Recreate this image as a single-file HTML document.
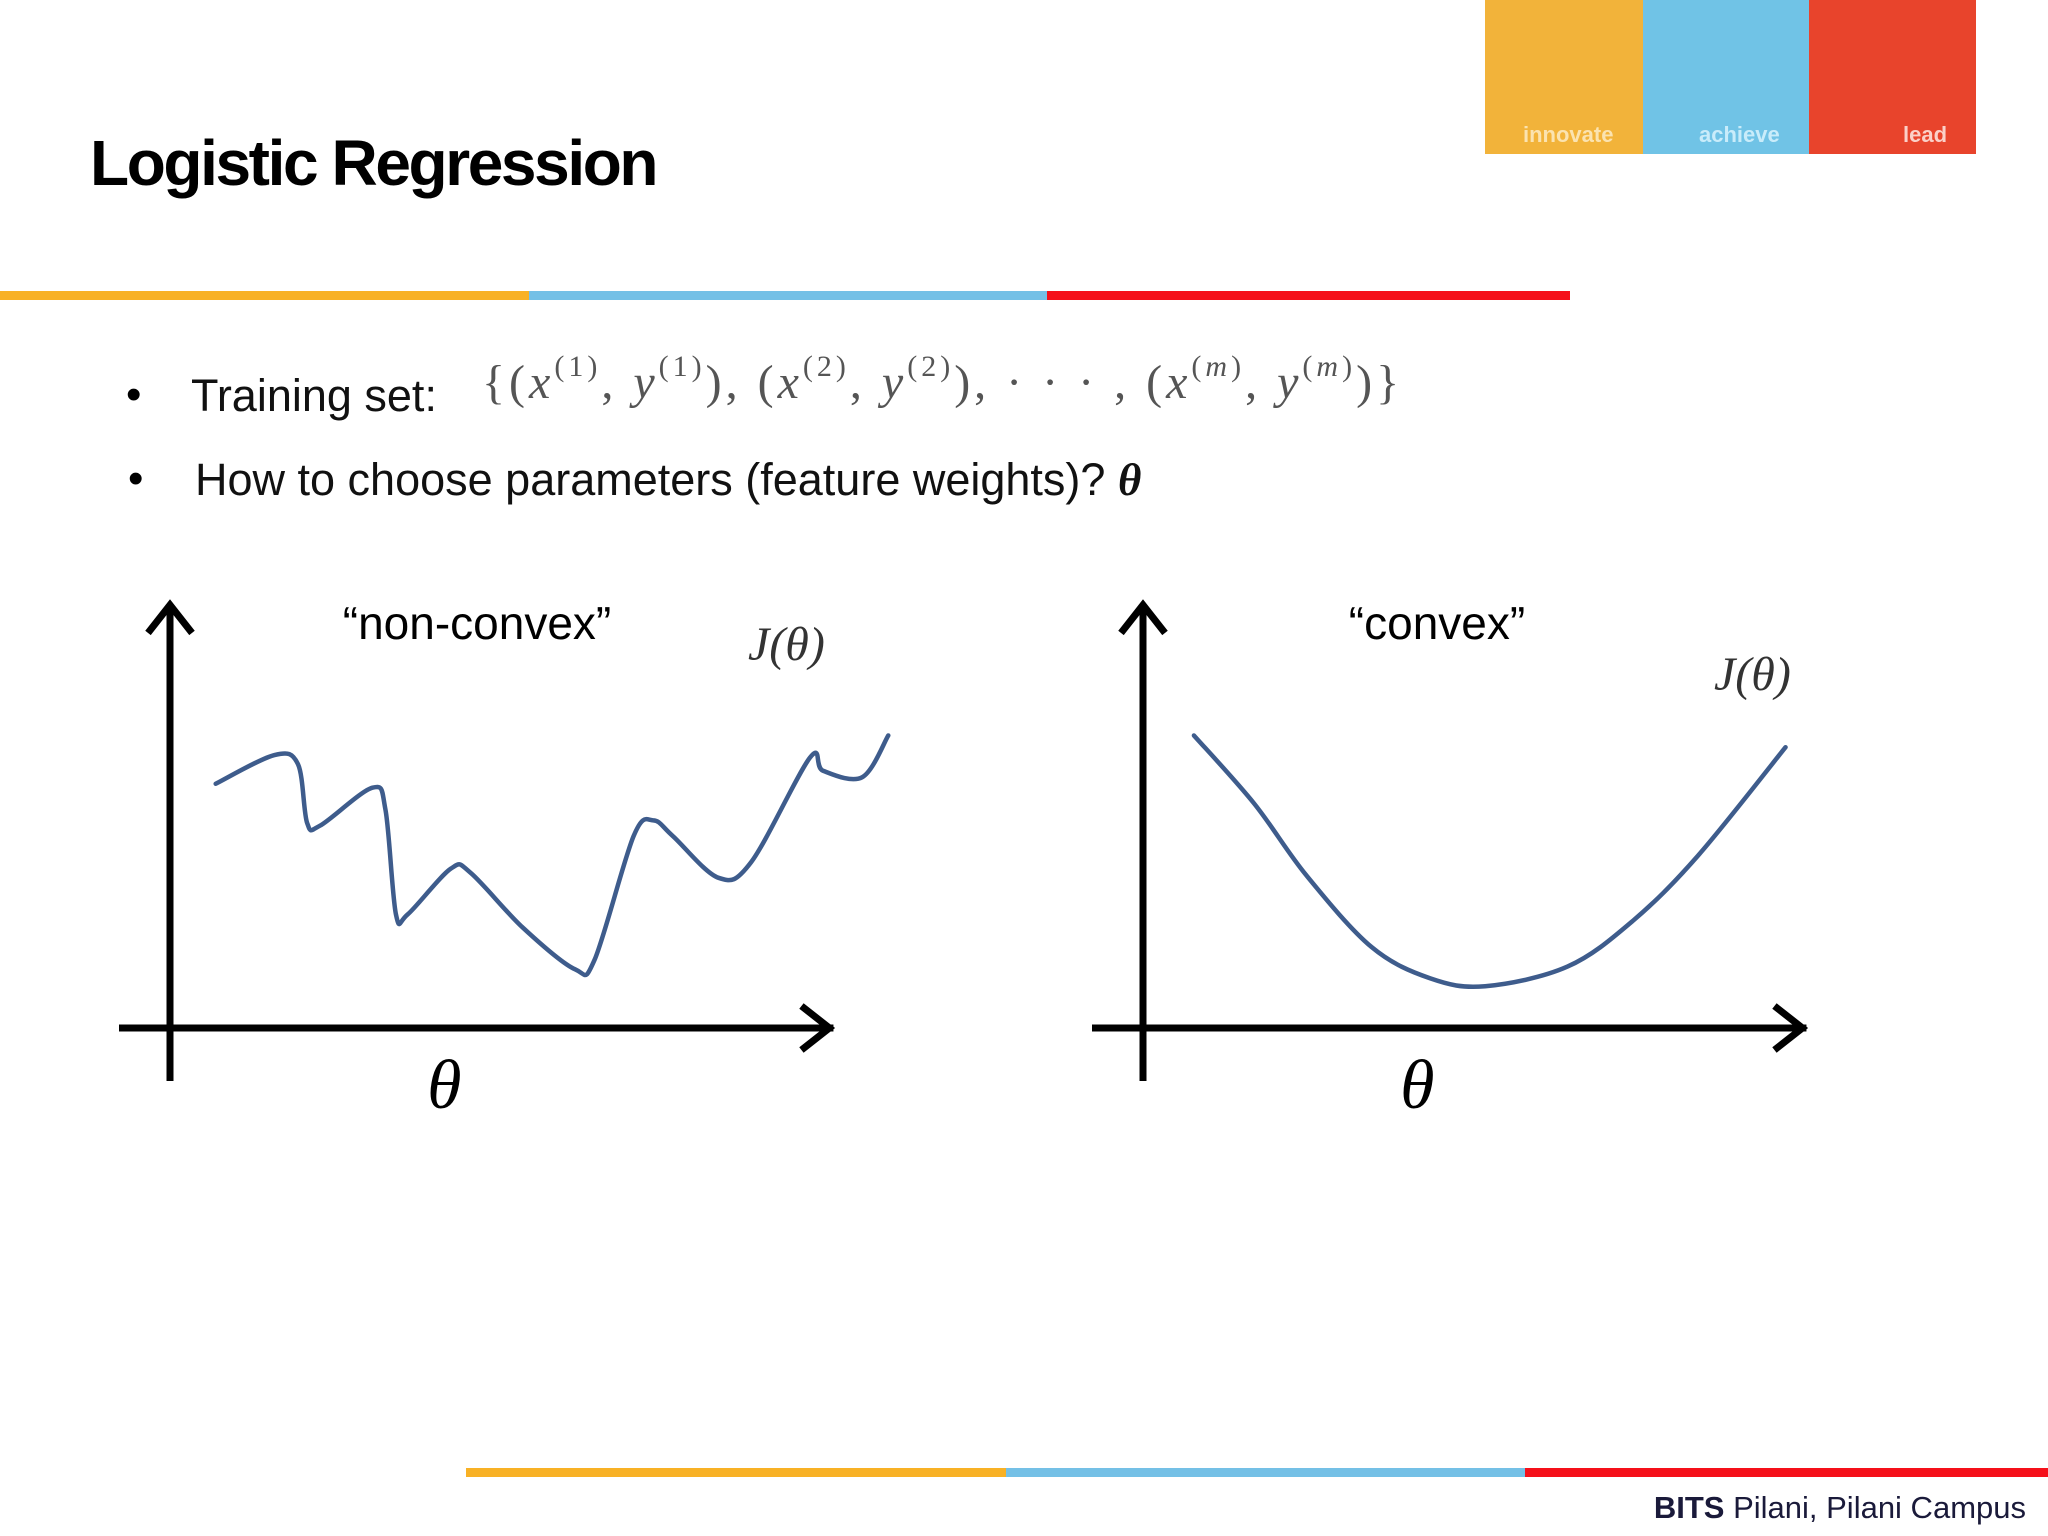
<!DOCTYPE html>
<html><head><meta charset="utf-8">
<style>
html,body{margin:0;padding:0;background:#fff;}
#page{position:relative;width:2048px;height:1536px;overflow:hidden;background:#fff;font-family:"Liberation Sans",sans-serif;}
.abs{position:absolute;}
.bar{position:absolute;height:9px;}
.sup{font-size:30px;vertical-align:22px;}
</style></head><body>
<div id="page">
  <div class="abs" style="left:1485px;top:0;width:491px;height:154px;">
    <div class="abs" style="left:0;top:0;width:158px;height:154px;background:#F2B33A;"></div>
    <div class="abs" style="left:158px;top:0;width:166px;height:154px;background:#70C3E6;"></div>
    <div class="abs" style="left:324px;top:0;width:167px;height:154px;background:#E8442C;"></div>
    <div class="abs" style="left:38px;top:122px;color:#fbe3b0;font-size:22px;font-weight:bold;">innovate</div>
    <div class="abs" style="left:214px;top:122px;color:#c9ecfa;font-size:22px;font-weight:bold;">achieve</div>
    <div class="abs" style="left:418px;top:122px;color:#fbd0c8;font-size:22px;font-weight:bold;">lead</div>
  </div>
  <div class="abs" style="left:90px;top:126px;font-size:64px;font-weight:bold;letter-spacing:-2.4px;color:#000;">Logistic Regression</div>
  <div class="bar" style="left:0;top:291px;width:529px;background:#F8B125;"></div>
  <div class="bar" style="left:529px;top:291px;width:518px;background:#74C0E6;"></div>
  <div class="bar" style="left:1047px;top:291px;width:523px;background:#F5101A;"></div>

  <div class="abs" style="left:126px;top:370px;font-size:44px;">•</div>
  <div class="abs" style="left:191px;top:370px;font-size:45px;color:#111;">Training set:</div>
  <div class="abs" style="left:482px;top:350px;font-size:48px;letter-spacing:4px;font-family:'Liberation Serif',serif;color:#555;white-space:nowrap;">{(<i>x</i><span class="sup">(1)</span>, <i>y</i><span class="sup">(1)</span>), (<i>x</i><span class="sup">(2)</span>, <i>y</i><span class="sup">(2)</span>), · · · , (<i>x</i><span class="sup">(<i>m</i>)</span>, <i>y</i><span class="sup">(<i>m</i>)</span>)}</div>
  <div class="abs" style="left:128px;top:454px;font-size:44px;">•</div>
  <div class="abs" style="left:195px;top:454px;font-size:45px;color:#111;">How to choose parameters (feature weights)? <i style="font-family:'Liberation Serif',serif;font-weight:bold;">θ</i></div>

  <svg class="abs" style="left:0;top:0" width="2048" height="1536" id="charts"></svg>

  <div class="bar" style="left:466px;top:1468px;width:540px;background:#F8B125;"></div>
  <div class="bar" style="left:1006px;top:1468px;width:519px;background:#74C0E6;"></div>
  <div class="bar" style="left:1525px;top:1468px;width:523px;background:#F5101A;"></div>
  <div class="abs" style="right:22px;top:1490px;font-size:31px;color:#1a1a3a;"><b>BITS</b> Pilani, Pilani Campus</div>
</div>
<script>
// data (display units: theta from y-axis, J above x-axis)
const nonConvexTheta = [35,80,98,105,115,155,165,173,182,215,230,270,310,325,355,370,385,420,445,490,500,530,550];
const nonConvexJ     = [187,209,202,157,155,184,167,87,87,122,119,77,45,52,147,159,147,115,127,207,197,192,224];
const convexTheta = [39,85,125,175,220,262,325,375,425,492];
const convexJ     = [224,172,117,62,38,32,47,82,132,215];
const chartTitles = ['“non-convex”','“convex”'];

const NS='http://www.w3.org/2000/svg';
const svg=document.getElementById('charts');
const K=1.306;
function mk(tag,attrs){const e=document.createElementNS(NS,tag);for(const k in attrs)e.setAttribute(k,attrs[k]);svg.appendChild(e);return e;}
function smooth(pts){let d='M'+pts[0][0]+','+pts[0][1];for(let i=0;i<pts.length-1;i++){const p0=pts[i-1]||pts[i],p1=pts[i],p2=pts[i+1],p3=pts[i+2]||p2;
 const c1=[p1[0]+(p2[0]-p0[0])/6,p1[1]+(p2[1]-p0[1])/6],c2=[p2[0]-(p3[0]-p1[0])/6,p2[1]-(p3[1]-p1[1])/6];
 d+=' C'+c1[0]+','+c1[1]+' '+c2[0]+','+c2[1]+' '+p2[0]+','+p2[1];}return d;}

function chart(ox,oy,thetas,js,title,titleX,jx,jy,name){
  const xS=v=>ox+v*K, yS=v=>oy-v*K;
  const top=oy-327*K;
  const ax=mk('path',{d:`M${ox} ${top+4} V${oy+53}`,stroke:'#000','stroke-width':7,fill:'none'});
  
  const ah=mk('path',{d:`M${ox-22} ${top+32} L${ox} ${top+4} L${ox+22} ${top+32}`,stroke:'#000','stroke-width':7,fill:'none'});
  
  const bx=mk('path',{d:`M${ox-51} ${oy} H${ox+508*K}`,stroke:'#000','stroke-width':7,fill:'none'});
  
  const bh=mk('path',{d:`M${ox+508*K-32} ${oy-22} L${ox+508*K-4} ${oy} L${ox+508*K-32} ${oy+22}`,stroke:'#000','stroke-width':7,fill:'none'});
  
  const pts=thetas.map((t,i)=>[xS(t),yS(js[i])]);
  const c=mk('path',{d:smooth(pts),stroke:'#3E5C8C','stroke-width':4.5,fill:'none','stroke-linecap':'round'});
  
  const t=mk('text',{x:titleX,y:oy-389,'font-size':46,'text-anchor':'middle','font-family':'Liberation Sans, sans-serif'});
  t.textContent=title;
  const j=mk('text',{x:jx,y:jy,'font-size':48,'font-style':'italic','font-family':'Liberation Serif, serif',fill:'#333'});
  j.textContent='J(θ)';
  const th=mk('text',{x:ox+210*K,y:oy+80,'font-size':70,'font-style':'italic','text-anchor':'middle','font-family':'Liberation Serif, serif'});
  th.textContent='θ';
}
chart(170,1028,nonConvexTheta,nonConvexJ,chartTitles[0],477,748,660,'non-convex');
chart(1143,1028,convexTheta,convexJ,chartTitles[1],1437,1714,690,'convex');
</script>
</body></html>
